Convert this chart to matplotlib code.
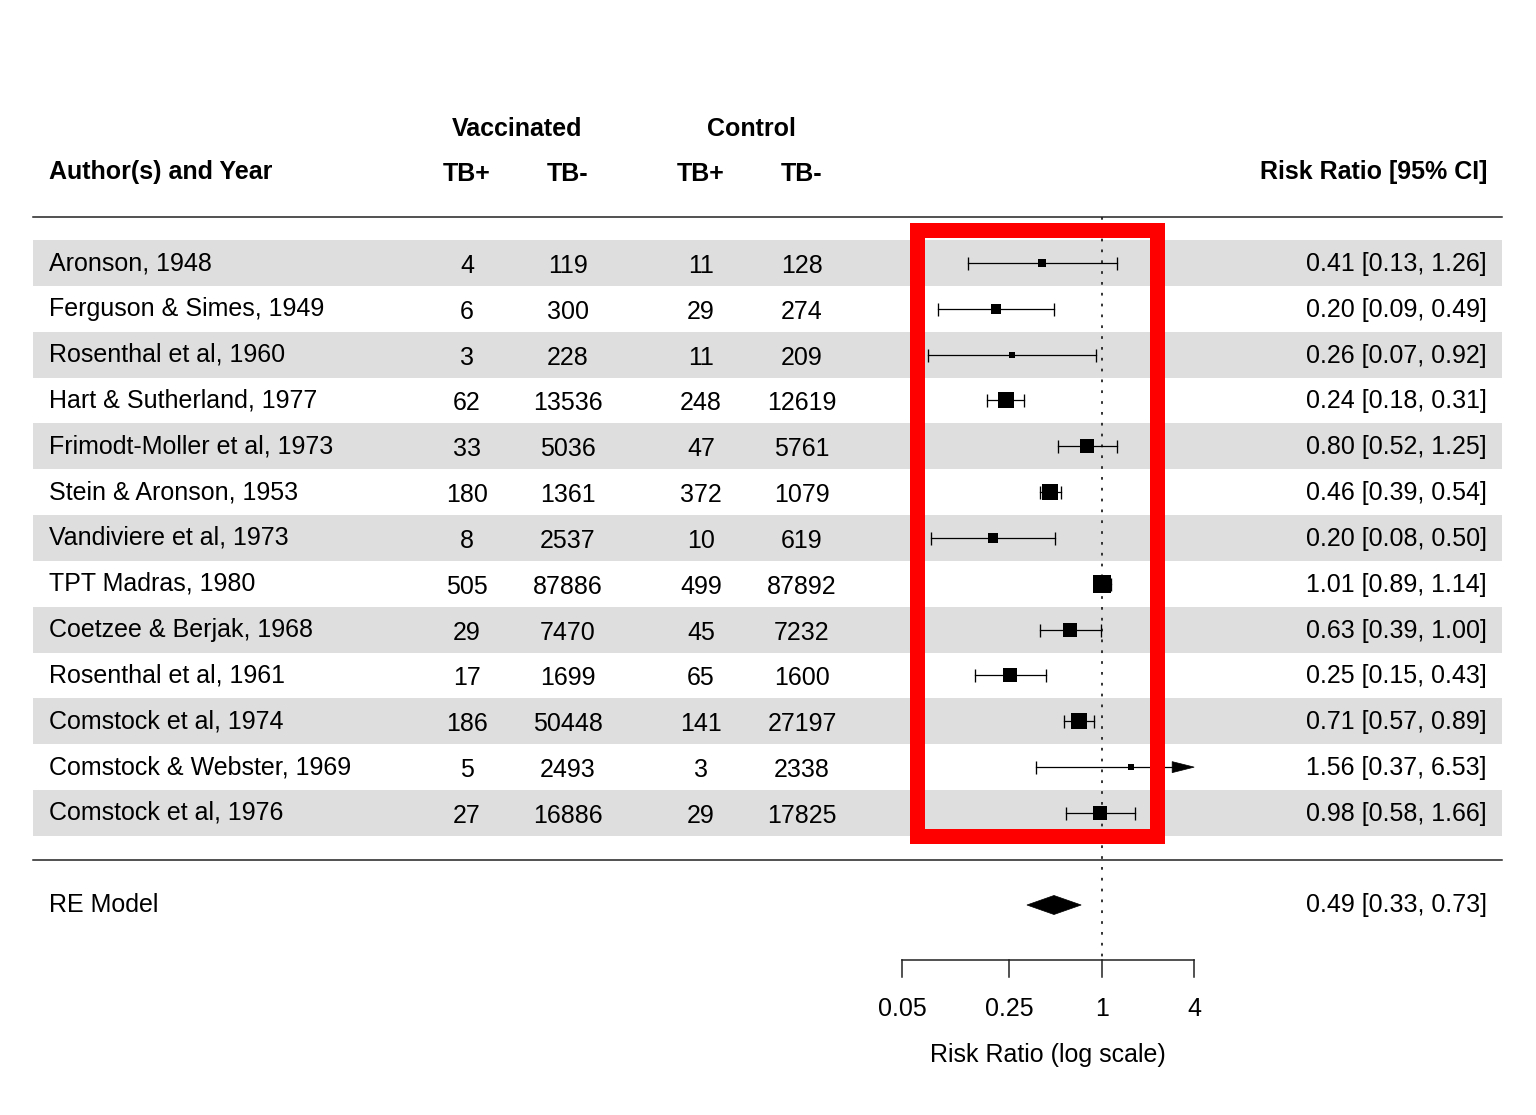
import numpy as np
import matplotlib
matplotlib.use('Agg')
import matplotlib.pyplot as plt
from matplotlib.patches import Rectangle, Polygon
from matplotlib.transforms import blended_transform_factory

plt.rcParams['font.family'] = ['Liberation Sans', 'DejaVu Sans']

# ---------------- data ----------------
authors = ["Aronson, 1948", "Ferguson & Simes, 1949", "Rosenthal et al, 1960",
           "Hart & Sutherland, 1977", "Frimodt-Moller et al, 1973", "Stein & Aronson, 1953",
           "Vandiviere et al, 1973", "TPT Madras, 1980", "Coetzee & Berjak, 1968",
           "Rosenthal et al, 1961", "Comstock et al, 1974", "Comstock & Webster, 1969",
           "Comstock et al, 1976"]
vacc_pos = [4, 6, 3, 62, 33, 180, 8, 505, 29, 17, 186, 5, 27]
vacc_neg = [119, 300, 228, 13536, 5036, 1361, 2537, 87886, 7470, 1699, 50448, 2493, 16886]
ctrl_pos = [11, 29, 11, 248, 47, 372, 10, 499, 45, 65, 141, 3, 29]
ctrl_neg = [128, 274, 209, 12619, 5761, 1079, 619, 87892, 7232, 1600, 27197, 2338, 17825]
rr    = [0.411, 0.205, 0.260, 0.237, 0.804, 0.462, 0.196, 1.012, 0.626, 0.254, 0.711, 1.562, 0.979]
ci_lo = [0.134, 0.086, 0.0735, 0.179, 0.517, 0.394, 0.077, 0.894, 0.394, 0.149, 0.571, 0.374, 0.582]
ci_hi = [1.257, 0.486, 0.918, 0.313, 1.251, 0.542, 0.497, 1.144, 0.996, 0.433, 0.886, 6.528, 1.657]
weights = [5.06, 6.36, 4.44, 9.70, 8.87, 10.10, 6.03, 10.19, 8.74, 8.37, 9.93, 3.82, 8.40]
re_label = "RE Model"
re_est, re_lo, re_hi = 0.489, 0.326, 0.735
tick_vals = [0.05, 0.25, 1, 4]
tick_labels = ["0.05", "0.25", "1", "4"]
xlabel = "Risk Ratio (log scale)"

# ---------------- layout ----------------
W, H = 1536, 1115
fig = plt.figure(figsize=(W / 100, H / 100), dpi=100)
ax = fig.add_axes([0, 0, 1, 1])
ax.set_xscale('log')
x1_px, px_per_ln = 1101.7, 66.7
row0_px, row_px = 263.0, 45.83
k = len(authors)
ax.set_xlim(np.exp(-x1_px / px_per_ln), np.exp((W - x1_px) / px_per_ln))
ax.set_ylim(k - (H - row0_px) / row_px, k + row0_px / row_px)
ax.axis('off')

def ypx(p):
    return k - (p - row0_px) / row_px

def dpx(p):
    return p / row_px

tr = blended_transform_factory(fig.transFigure, ax.transData)
fs = 18
left, right = 33 / W, 1502 / W

# bands
ys = np.arange(k, 0, -1)
for i, y in enumerate(ys):
    if i % 2 == 0:
        ax.add_patch(Rectangle((left, y - 0.5), right - left, 1.0, transform=tr,
                               facecolor='#DEDEDE', edgecolor='none', zorder=0))

# horizontal rules
for yy in [ypx(217), ypx(860)]:
    ax.plot([left, right], [yy, yy], transform=tr, color='#222222', lw=1.1, zorder=1)

# headers
ax.text(49 / W, ypx(172), "Author(s) and Year", transform=tr, ha='left', va='center',
        fontsize=fs, fontweight='bold')
ax.text(517 / W, ypx(129), "Vaccinated", transform=tr, ha='center', va='center',
        fontsize=fs, fontweight='bold')
ax.text(751 / W, ypx(129), "Control", transform=tr, ha='center', va='center',
        fontsize=fs, fontweight='bold')
for xc, lab in zip([467, 568, 701, 802], ["TB+", "TB-", "TB+", "TB-"]):
    ax.text(xc / W, ypx(174), lab, transform=tr, ha='center', va='center',
            fontsize=fs, fontweight='bold')
ax.text(1487 / W, ypx(172), "Risk Ratio [95% CI]", transform=tr, ha='right', va='center',
        fontsize=fs, fontweight='bold')

# rows text
for i, y in enumerate(ys):
    ax.text(49 / W, y, authors[i], transform=tr, ha='left', va='center', fontsize=fs)
    for xc, vals in zip([467, 568, 701, 802], [vacc_pos, vacc_neg, ctrl_pos, ctrl_neg]):
        ax.text(xc / W, y - dpx(3), str(vals[i]), transform=tr, ha='center', va='center',
                fontsize=fs)
    ax.text(1487 / W, y - dpx(1), f"{rr[i]:.2f} [{ci_lo[i]:.2f}, {ci_hi[i]:.2f}]",
            transform=tr, ha='right', va='center', fontsize=fs)

# reference line
ax.plot([1, 1], [ypx(217), ypx(959)], color='#222222', lw=1.3,
        dashes=(1.5, 4.5), zorder=1)

# CIs and squares
alim = (tick_vals[0], tick_vals[-1])
cap_pt = 13 * 0.72
arrow_ln = 22 / px_per_ln
arrow_h = 5.5 / row_px
wmin, wmax = min(weights), max(weights)
for i, y in enumerate(ys):
    lo, hi = ci_lo[i], ci_hi[i]
    lo_end = lo if lo >= alim[0] else alim[0]
    hi_end = hi if hi <= alim[1] else alim[1] * np.exp(-arrow_ln)
    ax.plot([lo_end, hi_end], [y, y], color='black', lw=0.9, zorder=3)
    if lo >= alim[0]:
        ax.plot([lo], [y], marker='|', ms=cap_pt, mew=0.95, color='black', zorder=3)
    if hi <= alim[1]:
        ax.plot([hi], [y], marker='|', ms=cap_pt, mew=0.95, color='black', zorder=3)
    else:
        ax.add_patch(Polygon([(alim[1] * np.exp(-arrow_ln), y + arrow_h),
                              (alim[1], y),
                              (alim[1] * np.exp(-arrow_ln), y - arrow_h)],
                             closed=True, facecolor='black', edgecolor='black',
                             lw=0.5, zorder=3))
    psize = 0.5 + (weights[i] - wmin) / (wmax - wmin)
    ax.plot([rr[i]], [y], marker='s', ms=psize * 11.4 * 0.72, color='black',
            mew=0, zorder=4)

# RE model
y_re = ypx(905)
ax.text(49 / W, ypx(905), re_label, transform=tr, ha='left', va='center', fontsize=fs)
ax.text(1487 / W, ypx(905), f"{re_est:.2f} [{re_lo:.2f}, {re_hi:.2f}]", transform=tr,
        ha='right', va='center', fontsize=fs)
dh = 9.5 / row_px
ax.add_patch(Polygon([(re_lo, y_re), (re_est, y_re + dh), (re_hi, y_re), (re_est, y_re - dh)],
                     closed=True, facecolor='black', edgecolor='black', lw=0.5, zorder=4))

# x axis
y_ax = ypx(959.5)
tick_len = 17 / row_px
ax.plot([tick_vals[0], tick_vals[-1]], [y_ax, y_ax], color='#222222', lw=1.1, zorder=2)
for tv, tl in zip(tick_vals, tick_labels):
    ax.plot([tv, tv], [y_ax, y_ax - tick_len], color='#222222', lw=1.1, zorder=2)
    ax.text(tv, ypx(1009), tl, ha='center', va='center', fontsize=fs)
ax.text(np.sqrt(tick_vals[0] * tick_vals[-1]), ypx(1055), xlabel, ha='center', va='center',
        fontsize=fs)

# highlight box
ax.add_patch(Rectangle((916.5 / W, 1 - 836 / H), (1156.5 - 916.5) / W, (836 - 229.5) / H,
                       transform=fig.transFigure, facecolor='none', edgecolor='#FF0000',
                       lw=15 * 0.72, joinstyle='miter', zorder=10))

fig.savefig('out.png', dpi=100)
